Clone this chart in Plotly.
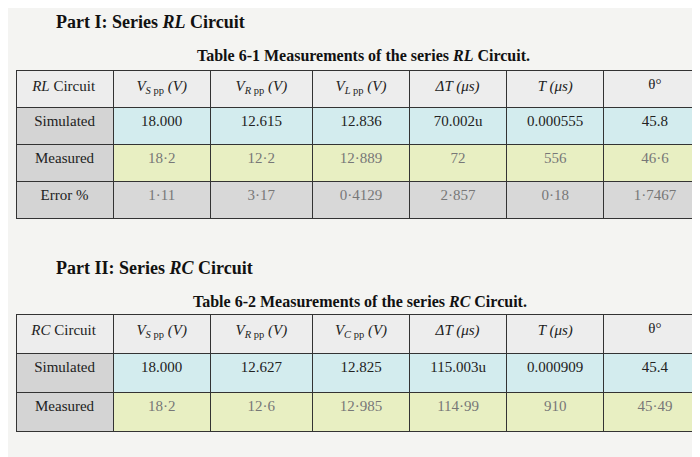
import plotly.graph_objects as go

H1 = ["<i>RL</i> Circuit", "<i>V</i><sub><i>S</i> pp</sub> <i>(V)</i>", "<i>V</i><sub><i>R</i> pp</sub> <i>(V)</i>",
      "<i>V</i><sub><i>L</i> pp</sub> <i>(V)</i>", "<i>ΔT (μs)</i>", "<i>T (μs)</i>", "θ°"]
rows1 = ["Simulated", "Measured", "Error %"]
sim1 = ["18.000", "12.615", "12.836", "70.002u", "0.000555", "45.8"]
meas1 = ["18·2", "12·2", "12·889", "72", "556", "46·6"]
err1 = ["1·11", "3·17", "0·4129", "2·857", "0·18", "1·7467"]

H2 = ["<i>RC</i> Circuit", "<i>V</i><sub><i>S</i> pp</sub> <i>(V)</i>", "<i>V</i><sub><i>R</i> pp</sub> <i>(V)</i>",
      "<i>V</i><sub><i>C</i> pp</sub> <i>(V)</i>", "<i>ΔT (μs)</i>", "<i>T (μs)</i>", "θ°"]
rows2 = ["Simulated", "Measured"]
sim2 = ["18.000", "12.627", "12.825", "115.003u", "0.000909", "45.4"]
meas2 = ["18·2", "12·6", "12·985", "114·99", "910", "45·49"]

W, Hh = 700, 457
widths = [95, 95, 100, 95, 95, 95, 100]
label_c = "#d4d4d4"; sim_c = "#d3ecee"; meas_c = "#e8efc2"; err_c = "#d8d8d8"; head_c = "#ededed"
serif = "Liberation Serif"

def table(header, rows, data, colors, top, height):
    cols = [rows] + [list(c) for c in zip(*data)]
    fills = [[label_c] * len(rows)] + [colors] * 6
    fc = [["#222"] * len(rows)] + [["#222" if r == "Simulated" else "#777" for r in rows]] * 6
    return go.Table(
        domain=dict(x=[8 / W, 698 / W], y=[0, 1 - (top - 6) / Hh]),
        columnwidth=widths,
        header=dict(values=header, fill_color=head_c, line_color="#333", height=height,
                    font=dict(family=serif, size=15, color="#222"), align="center"),
        cells=dict(values=cols, fill_color=fills, line_color="#333", height=height,
                   font=dict(family=serif, size=15, color=fc), align="center"))

fig = go.Figure()
fig.add_trace(table(H1, rows1, [sim1, meas1, err1], [sim_c, meas_c, err_c], 68, 37))
fig.add_trace(table(H2, rows2, [sim2, meas2], [sim_c, meas_c], 312, 39))

def txt(x, y, s, size, anchor="left"):
    fig.add_annotation(x=x / W, y=1 - y / Hh, xref="paper", yref="paper", text=s, showarrow=False,
                       xanchor=anchor, yanchor="middle", font=dict(family=serif, size=size, color="#111"))

txt(46, 14, "<b>Part I: Series <i>RL</i> Circuit</b>", 18)
txt(355, 48, "<b>Table 6-1 Measurements of the series <i>RL</i> Circuit.</b>", 16, "center")
txt(46, 260, "<b>Part II: Series <i>RC</i> Circuit</b>", 18)
txt(352, 293, "<b>Table 6-2 Measurements of the series <i>RC</i> Circuit.</b>", 16, "center")

fig.update_layout(width=W, height=Hh, margin=dict(l=0, r=0, t=0, b=0),
                  paper_bgcolor="#f4f4f2")
fig.write_html("out.html")
